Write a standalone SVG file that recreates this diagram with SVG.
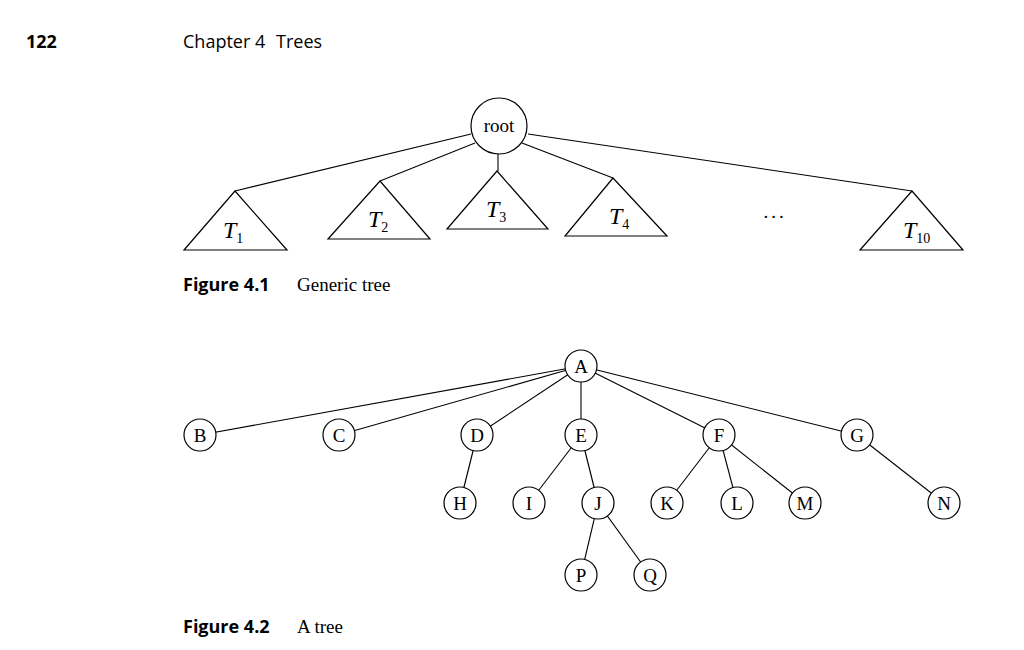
<svg xmlns="http://www.w3.org/2000/svg" width="1024" height="650" viewBox="0 0 1024 650">
<style>
.n{fill:#fff;stroke:#000;stroke-width:1.2}
.c line,.c polyline{stroke:#000;stroke-width:1.1;fill:none}
.t{fill:none;stroke:#000;stroke-width:1.2}
.l{font-family:"Liberation Serif",serif;font-size:19px;text-anchor:middle}
.T{font-family:"Liberation Serif",serif;font-size:24px;font-style:italic}
.s{font-family:"Liberation Serif",serif;font-size:14px;font-style:normal}
.h{font-family:"Open Sans","Liberation Sans",sans-serif;font-size:18px}
.cap{font-family:"Liberation Serif",serif;font-size:19px}
</style>
<rect width="1024" height="650" fill="#fff"/>
<text x="26" y="48" class="h" font-weight="bold" font-size="20">122</text>
<text x="183" y="48" class="h" font-size="17">Chapter 4</text>
<text x="276" y="48" class="h" font-size="17">Trees</text>
<g class="c">
<line x1="471" y1="134" x2="235" y2="191"/>
<line x1="475" y1="143" x2="380" y2="181"/>
<line x1="498" y1="154" x2="498" y2="171"/>
<line x1="522" y1="143" x2="613" y2="178"/>
<line x1="528" y1="134" x2="912" y2="191"/>
</g>
<g id="root"><circle class="n" cx="499" cy="126" r="28"/><text class="l" x="499" y="132">root</text></g>
<g id="T1"><polygon class="t" points="235,191 184,250 287,250"/><text class="T" x="223" y="238">T<tspan class="s" dy="5">1</tspan></text></g>
<g id="T2"><polygon class="t" points="380,181 328,239 430,239"/><text class="T" x="368" y="227">T<tspan class="s" dy="5">2</tspan></text></g>
<g id="T3"><polygon class="t" points="497,171 447,229 548,229"/><text class="T" x="486" y="217">T<tspan class="s" dy="5">3</tspan></text></g>
<g id="T4"><polygon class="t" points="613,178 565,236 667,236"/><text class="T" x="609" y="224">T<tspan class="s" dy="5">4</tspan></text></g>
<text x="775" y="218" class="cap" style="font-size:19px;letter-spacing:3px" text-anchor="middle">...</text>
<g id="T10"><polygon class="t" points="912,191 860,250 963,250"/><text class="T" x="903" y="238">T<tspan class="s" dy="5">10</tspan></text></g>
<text x="183" y="291" class="h" font-weight="bold" font-size="18">Figure 4.1</text>
<text x="297" y="291" class="cap">Generic tree</text>
<g class="c">
<line x1="581" y1="366" x2="200" y2="435"/><line x1="581" y1="366" x2="339" y2="435"/>
<line x1="581" y1="366" x2="477" y2="435"/><line x1="581" y1="366" x2="581" y2="435"/>
<line x1="581" y1="366" x2="719" y2="435"/><line x1="581" y1="366" x2="857" y2="435"/>
<line x1="477" y1="435" x2="460" y2="503"/>
<line x1="581" y1="435" x2="529" y2="503"/><line x1="581" y1="435" x2="598" y2="503"/>
<line x1="719" y1="435" x2="667" y2="503"/><line x1="719" y1="435" x2="737" y2="503"/><line x1="719" y1="435" x2="805" y2="503"/>
<line x1="857" y1="435" x2="944" y2="503"/>
<line x1="598" y1="503" x2="581" y2="575"/><line x1="598" y1="503" x2="650" y2="575"/>
</g>
<g id="A"><circle class="n" cx="581" cy="366" r="16"/><text class="l" x="581" y="373">A</text></g>
<g id="B"><circle class="n" cx="200" cy="435" r="16"/><text class="l" x="200" y="442">B</text></g>
<g id="C"><circle class="n" cx="339" cy="435" r="16"/><text class="l" x="339" y="442">C</text></g>
<g id="D"><circle class="n" cx="477" cy="435" r="16"/><text class="l" x="477" y="442">D</text></g>
<g id="E"><circle class="n" cx="581" cy="435" r="16"/><text class="l" x="581" y="442">E</text></g>
<g id="F"><circle class="n" cx="719" cy="435" r="16"/><text class="l" x="719" y="442">F</text></g>
<g id="G"><circle class="n" cx="857" cy="435" r="16"/><text class="l" x="857" y="442">G</text></g>
<g id="H"><circle class="n" cx="460" cy="503" r="16"/><text class="l" x="460" y="510">H</text></g>
<g id="I"><circle class="n" cx="529" cy="503" r="16"/><text class="l" x="529" y="510">I</text></g>
<g id="J"><circle class="n" cx="598" cy="503" r="16"/><text class="l" x="598" y="510">J</text></g>
<g id="K"><circle class="n" cx="667" cy="503" r="16"/><text class="l" x="667" y="510">K</text></g>
<g id="L"><circle class="n" cx="737" cy="503" r="16"/><text class="l" x="737" y="510">L</text></g>
<g id="M"><circle class="n" cx="805" cy="503" r="16"/><text class="l" x="805" y="510">M</text></g>
<g id="N"><circle class="n" cx="944" cy="503" r="16"/><text class="l" x="944" y="510">N</text></g>
<g id="P"><circle class="n" cx="581" cy="575" r="16"/><text class="l" x="581" y="582">P</text></g>
<g id="Q"><circle class="n" cx="650" cy="575" r="16"/><text class="l" x="650" y="582">Q</text></g>
<text x="183" y="633" class="h" font-weight="bold" font-size="18">Figure 4.2</text>
<text x="297" y="633" class="cap">A tree</text>
</svg>
